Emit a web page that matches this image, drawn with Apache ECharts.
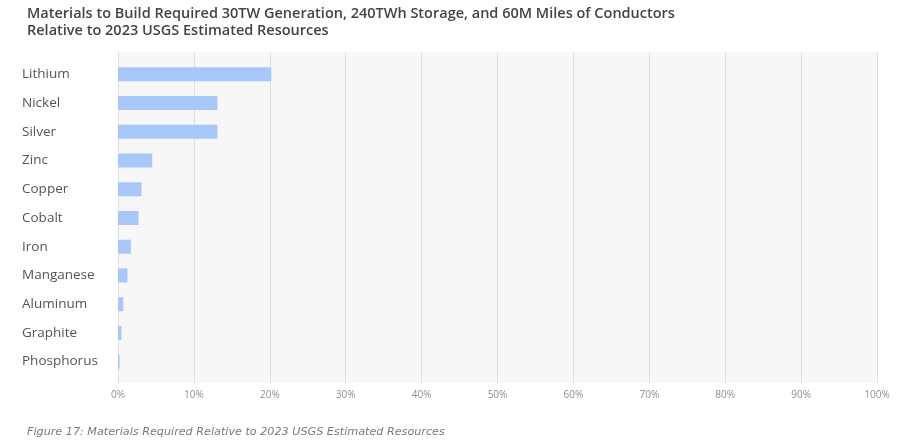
<!DOCTYPE html>
<html>
<head>
<meta charset="utf-8">
<script src="https://cdn.jsdelivr.net/npm/echarts@6/dist/echarts.min.js"></script>
<style>
  html, body { margin: 0; padding: 0; background: #fff; }
  #chart { width: 900px; height: 447px; }
</style>
</head>
<body>
<div id="chart"></div>
<script>
// materials, top to bottom as in the figure
const materials = ['Lithium', 'Nickel', 'Silver', 'Zinc', 'Copper', 'Cobalt', 'Iron', 'Manganese', 'Aluminum', 'Graphite', 'Phosphorus'];
// percent of 2023 USGS estimated resources
const required = [20.2, 13.1, 13.1, 4.5, 3.1, 2.7, 1.7, 1.25, 0.7, 0.45, 0.2];
const xTicks = [0, 10, 20, 30, 40, 50, 60, 70, 80, 90, 100];

const fontFam = '"Open Sans", "DejaVu Sans", sans-serif';

let chart = echarts.init(document.getElementById('chart'));
let option = {
  animation: false,
  backgroundColor: '#fff',
  title: [
    {
      text: 'Materials to Build Required 30TW Generation, 240TWh Storage, and 60M Miles of Conductors\nRelative to 2023 USGS Estimated Resources',
      left: 22,
      top: 0,
      textStyle: { fontFamily: fontFam, fontSize: 14.5, fontWeight: 600, color: '#444', lineHeight: 17 }
    },
    {
      text: 'Figure 17: Materials Required Relative to 2023 USGS Estimated Resources',
      left: 22,
      top: 422,
      textStyle: { fontFamily: '"DejaVu Sans", sans-serif', fontSize: 11.2, fontStyle: 'italic', fontWeight: 'normal', color: '#7a7a7a' }
    }
  ],
  grid: [
    // background panel + vertical grid lines
    { left: 118, right: 23, top: 52, bottom: 64, show: true, backgroundColor: '#f7f7f7', borderWidth: 0 },
    // bars sit a bit inside the panel
    { left: 118, right: 23, top: 60, bottom: 71 }
  ],
  xAxis: [
    {
      gridIndex: 0,
      type: 'value',
      min: xTicks[0],
      max: xTicks[xTicks.length - 1],
      interval: 10,
      axisLine: { show: false },
      axisTick: { show: false },
      splitLine: { show: true, lineStyle: { color: '#dfdfdf', width: 1 } },
      axisLabel: {
        formatter: '{value}%',
        color: '#8f8f8f',
        fontFamily: fontFam,
        fontSize: 10,
        margin: 7
      }
    },
    {
      gridIndex: 1,
      type: 'value',
      min: 0,
      max: 100,
      show: false
    }
  ],
  yAxis: [
    {
      gridIndex: 0,
      type: 'category',
      data: materials,
      show: false
    },
    {
      gridIndex: 1,
      type: 'category',
      data: materials,
      inverse: true,
      axisLine: { show: false },
      axisTick: { show: false },
      axisLabel: {
        align: 'left',
        margin: 96,
        color: '#555',
        fontFamily: fontFam,
        fontSize: 13.5
      }
    }
  ],
  series: [
    {
      type: 'bar',
      xAxisIndex: 1,
      yAxisIndex: 1,
      data: required,
      barWidth: 14,
      itemStyle: { color: '#a8c7fa' }
    }
  ]
};
chart.setOption(option);
</script>
</body>
</html>
